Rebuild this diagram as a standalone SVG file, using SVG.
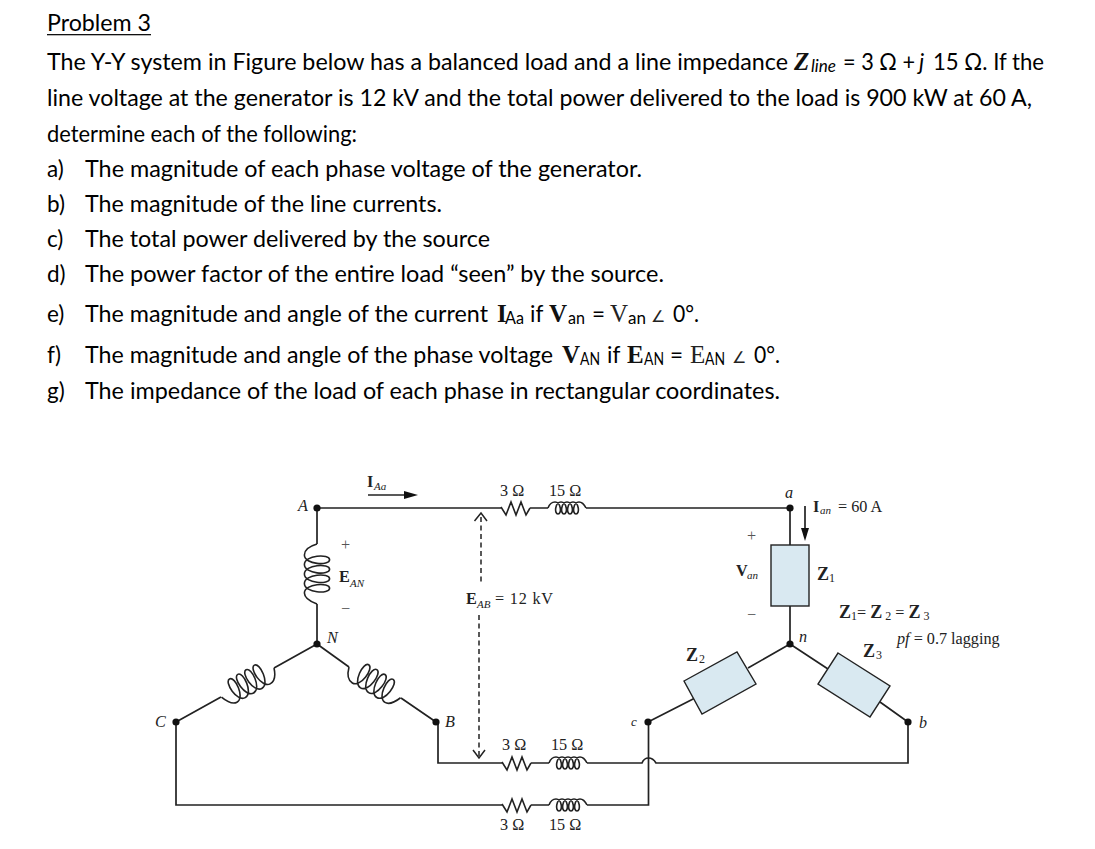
<svg xmlns="http://www.w3.org/2000/svg" width="1095" height="849" viewBox="0 0 1095 849">
<style>
.t{font-family:"Lato","Open Sans",sans-serif;font-size:22.5px;fill:#000}
.s{font-family:"Lato","Open Sans",sans-serif;font-size:18px;fill:#000}
.b{font-family:"Liberation Serif",serif;font-size:25px;font-weight:bold;fill:#111}
.r{font-family:"Liberation Serif",serif;font-size:25px;fill:#222}
.ang{font-family:"DejaVu Sans",sans-serif;font-size:16px;fill:#222}
.d{font-family:"Liberation Serif",serif;font-size:16.2px;fill:#222}
.i{font-style:italic}
.h{font-weight:bold}
.zb{font-weight:bold;font-size:18px}
.sm{font-size:11px;font-style:italic}
.sb{font-size:12px}
.m{fill:#555}
.w{fill:none;stroke:#222;stroke-width:1.7}
.c{fill:none;stroke:#222;stroke-width:1.6;vector-effect:non-scaling-stroke}
.z{fill:#d9e9f1;stroke:#222;stroke-width:1.4}
.dot{fill:#111}
.da{fill:none;stroke:#222;stroke-width:1.5;stroke-dasharray:5 3.5}
.ah{fill:none;stroke:#222;stroke-width:1.5}
</style>
<defs>
<path id="coil" class="c" d="M0,0C1.5,-4 4,-6 7,-6c6,0 7,12 3,12c-4,0 -3,-12 3,-12c6,0 7,12 3,12c-4,0 -3,-12 3,-12c6,0 7,12 3,12c-4,0 -3,-12 3,-12c6,0 7,12 3,12c-4,0 -3,-12 3,-12c3,0 5,2 7,6"/>
<path id="res" class="c" d="M0,-1L5,7L10,-6L15,7L20,-6L25,7L29,0"/>
</defs>

<g id="problem-text">
<text class="t" x="47" y="31" textLength="104" lengthAdjust="spacingAndGlyphs">Problem 3</text>
<rect x="47" y="34" width="104" height="1.3" fill="#111"/>
<text class="t" x="47" y="70" textLength="741" lengthAdjust="spacingAndGlyphs">The Y-Y system in Figure below has a balanced load and a line impedance</text>
<text class="b i" x="794" y="70">Z</text>
<text class="s i" x="811" y="72" textLength="25" lengthAdjust="spacingAndGlyphs">line</text>
<text class="t" x="843" y="70" textLength="72" lengthAdjust="spacingAndGlyphs">= 3 Ω +</text>
<text class="t i" x="919" y="70">j</text>
<text class="t" x="933" y="70" textLength="111" lengthAdjust="spacingAndGlyphs">15 Ω. If the</text>
<text class="t" x="47" y="106" textLength="985" lengthAdjust="spacingAndGlyphs">line voltage at the generator is 12 kV and the total power delivered to the load is 900 kW at 60 A,</text>
<text class="t" x="47" y="142" textLength="310" lengthAdjust="spacingAndGlyphs">determine each of the following:</text>
<text class="t" x="47" y="177">a)</text>
<text class="t" x="85" y="177" textLength="557" lengthAdjust="spacingAndGlyphs">The magnitude of each phase voltage of the generator.</text>
<text class="t" x="47" y="212">b)</text>
<text class="t" x="85" y="212" textLength="357" lengthAdjust="spacingAndGlyphs">The magnitude of the line currents.</text>
<text class="t" x="47" y="247">c)</text>
<text class="t" x="85" y="247" textLength="405" lengthAdjust="spacingAndGlyphs">The total power delivered by the source</text>
<text class="t" x="47" y="282">d)</text>
<text class="t" x="85" y="282" textLength="579" lengthAdjust="spacingAndGlyphs">The power factor of the entire load “seen” by the source.</text>
<text class="t" x="47" y="322">e)</text>
<text class="t" x="85" y="322" textLength="403" lengthAdjust="spacingAndGlyphs">The magnitude and angle of the current</text>
<text class="b" x="497" y="322">I</text>
<text class="s" x="505" y="324" textLength="19" lengthAdjust="spacingAndGlyphs">Aa</text>
<text class="t" x="530" y="322">if</text>
<text class="b" x="549" y="322">V</text>
<text class="s" x="568" y="324" textLength="17" lengthAdjust="spacingAndGlyphs">an</text>
<text class="t" x="592" y="322">=</text>
<text class="r" x="610" y="322">V</text>
<text class="s" x="628" y="324" textLength="18" lengthAdjust="spacingAndGlyphs">an</text>
<text class="ang" x="651" y="322">∠</text>
<text class="t" x="673" y="322" textLength="26" lengthAdjust="spacingAndGlyphs">0°.</text>
<text class="t" x="47" y="363">f)</text>
<text class="t" x="85" y="363" textLength="468" lengthAdjust="spacingAndGlyphs">The magnitude and angle of the phase voltage</text>
<text class="b" x="562" y="363">V</text>
<text class="s" x="580" y="365" textLength="20" lengthAdjust="spacingAndGlyphs">AN</text>
<text class="t" x="607" y="363">if</text>
<text class="b" x="627" y="363">E</text>
<text class="s" x="644" y="365" textLength="20" lengthAdjust="spacingAndGlyphs">AN</text>
<text class="t" x="670" y="363">=</text>
<text class="r" x="690" y="363">E</text>
<text class="s" x="705" y="365" textLength="20" lengthAdjust="spacingAndGlyphs">AN</text>
<text class="ang" x="732" y="363">∠</text>
<text class="t" x="754" y="363" textLength="26" lengthAdjust="spacingAndGlyphs">0°.</text>
<text class="t" x="47" y="399">g)</text>
<text class="t" x="85" y="399" textLength="695" lengthAdjust="spacingAndGlyphs">The impedance of the load of each phase in rectangular coordinates.</text>
</g>

<g id="connectors">
<path class="w" d="M317,508H501M530,508H548M586,508H790"/>
<path class="w" d="M317,508V544M317,604V644"/>
<path class="w" d="M317,644L274,668M221,697L176,722"/>
<path class="w" d="M317,644L349,667M401,698L436,722"/>
<path class="w" d="M438,722V763H502M531,763H549M587,763H642Q644,758 648.5,758Q653,758 656,763H908V722"/>
<path class="w" d="M176,722V805H502M531,805H549M587,805H648.5V722"/>
<path class="w" d="M790,508V545M790,606V644"/>
<path class="w" d="M790,644L748,668M697,697L648,722"/>
<path class="w" d="M790,644L828,669M880,702L908,722"/>
<path class="w" d="M368,495H406"/>
<path d="M404,491L418,495L404,499Z" fill="#111"/>
<path class="w" d="M805,506V530"/>
<path d="M801,528L805,541L809,528Z" fill="#111"/>
<path class="da" d="M481,517V585M479,615V756"/>
<path class="ah" d="M474.5,521L481,513L487,521M473,750L479,758L485,750"/>
</g>

<g id="source-AN"><use href="#coil" transform="translate(317,544) rotate(90) scale(1.58,-2.1)"/></g>
<g id="source-CN"><use href="#coil" transform="translate(274,668) rotate(151) scale(1.58,2)"/></g>
<g id="source-BN"><use href="#coil" transform="translate(349,667) rotate(30.8) scale(1.58,-2)"/></g>

<g id="line-A"><use href="#res" x="501" y="508"/><use href="#coil" x="548" y="508"/></g>
<g id="line-B"><use href="#res" x="502" y="763"/><use href="#coil" x="549" y="763"/></g>
<g id="line-C"><use href="#res" x="502" y="805"/><use href="#coil" x="549" y="805"/></g>

<g id="Z1"><rect class="z" x="771" y="545" width="38" height="61"/></g>
<g id="Z2"><polygon class="z" points="684,681 737,652 756,684 702,714"/></g>
<g id="Z3"><polygon class="z" points="838,653 890,686 870,717 818,684"/></g>

<g id="node-A"><circle class="dot" cx="317" cy="508" r="3.6"/><text class="d i" x="298" y="511">A</text></g>
<g id="node-N"><circle class="dot" cx="317" cy="644" r="3.6"/><text class="d i" x="327" y="643">N</text></g>
<g id="node-C"><circle class="dot" cx="176" cy="722" r="3.6"/><text class="d i" x="155" y="727">C</text></g>
<g id="node-B"><circle class="dot" cx="436" cy="722" r="3.6"/><text class="d i" x="445" y="727">B</text></g>
<g id="node-a"><circle class="dot" cx="790" cy="508" r="3.6"/><text class="d i" x="785" y="498">a</text></g>
<g id="node-n"><circle class="dot" cx="790" cy="644" r="3.6"/><text class="d i" x="799" y="642">n</text></g>
<g id="node-c"><circle class="dot" cx="648" cy="722" r="3.6"/><text class="d i" x="631" y="726" style="font-size:13px">c</text></g>
<g id="node-b"><circle class="dot" cx="908" cy="722" r="3.6"/><text class="d i" x="919" y="728" style="font-size:16px">b</text></g>

<g id="labels">
<text class="d h" x="367" y="487">I</text><text class="d sm" x="374" y="490">Aa</text>
<text class="d m" x="341" y="550">+</text><text class="d m" x="341" y="614">−</text>
<text class="d h" x="339" y="582">E</text><text class="d sm" x="350" y="587">AN</text>
<text class="d" x="500" y="496">3 Ω</text><text class="d" x="549" y="496">15 Ω</text>
<text class="d" x="502" y="750">3 Ω</text><text class="d" x="551" y="750">15 Ω</text>
<text class="d" x="500" y="830">3 Ω</text><text class="d" x="549" y="830">15 Ω</text>
<text class="d h" x="466" y="604">E</text><text class="d sm" x="477" y="608">AB</text><text class="d" x="495" y="604" textLength="58">= 12 kV</text>
<text class="d m" x="747" y="541">+</text><text class="d m" x="747" y="620">−</text>
<text class="d h" x="736" y="576">V</text><text class="d sm" x="747" y="579">an</text>
<text class="d h" x="813" y="512">I</text><text class="d sm" x="820" y="514">an</text><text class="d" x="838" y="512">= 60 A</text>
<text class="d zb" x="817" y="580">Z</text><text class="d sb" x="829" y="582">1</text>
<text class="d" x="839" y="618"><tspan class="zb">Z</tspan><tspan dy="2" class="sb">1</tspan><tspan dy="-2">= </tspan><tspan class="zb">Z</tspan><tspan dy="2" class="sb"> 2</tspan><tspan dy="-2"> = </tspan><tspan class="zb">Z</tspan><tspan dy="2" class="sb"> 3</tspan></text>
<text class="d" x="897" y="644"><tspan class="i">pf</tspan> = 0.7 lagging</text>
<text class="d zb" x="686" y="661">Z</text><text class="d sb" x="699" y="663">2</text>
<text class="d zb" x="863" y="657">Z</text><text class="d sb" x="876" y="659">3</text>
</g>
</svg>
